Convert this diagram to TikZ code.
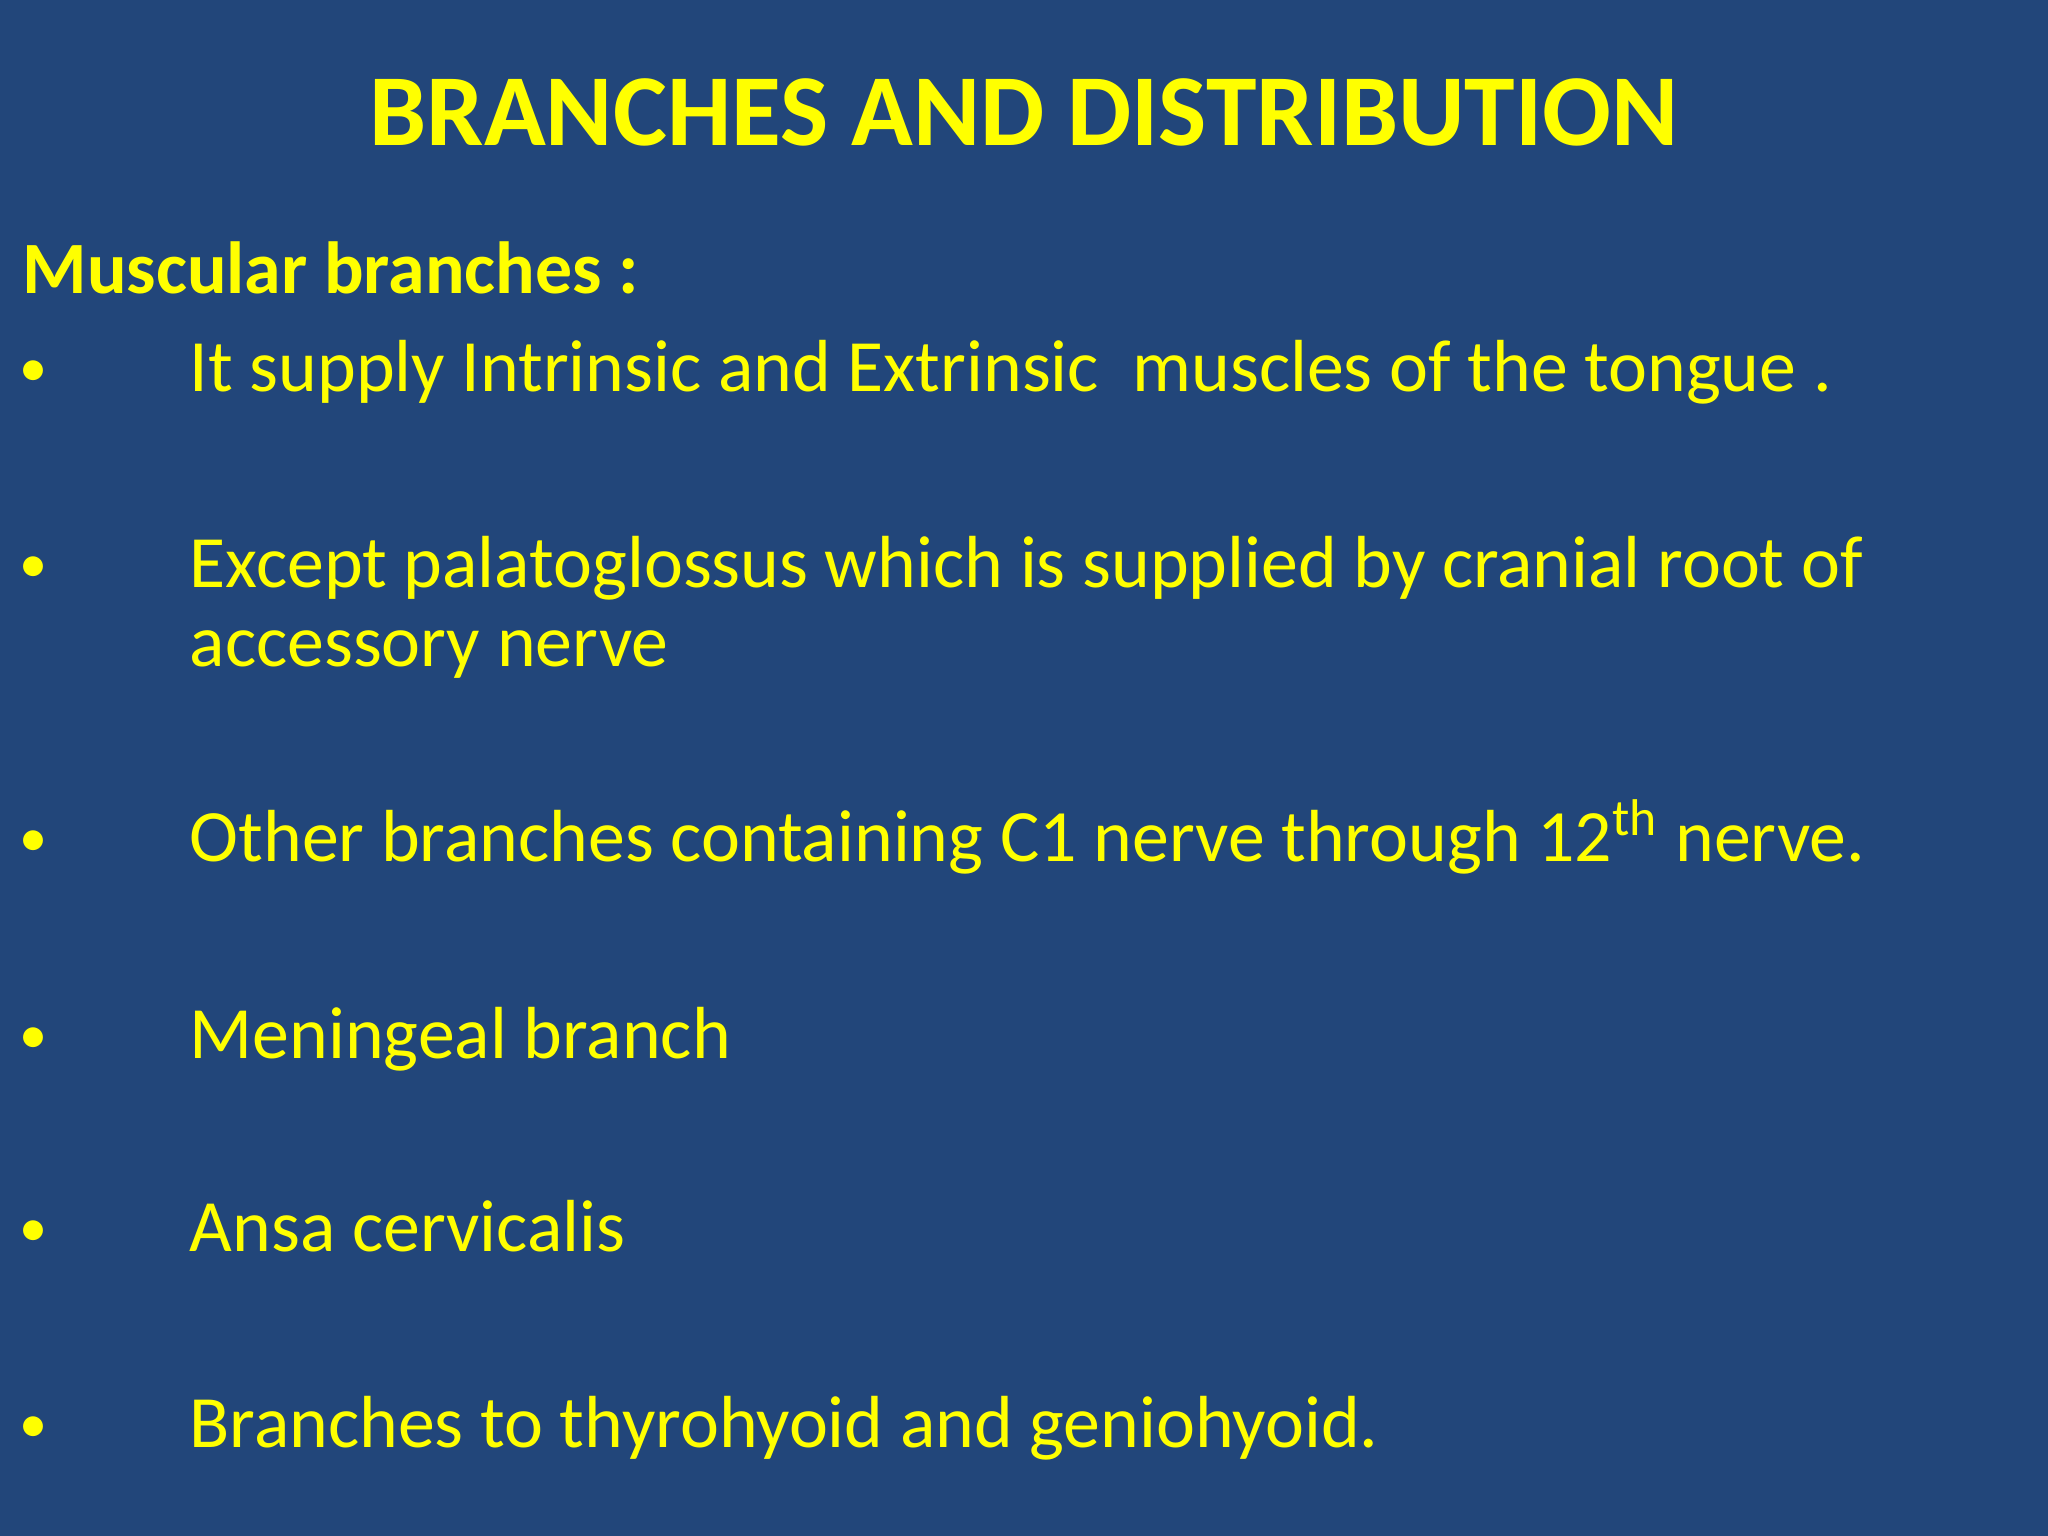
\documentclass[tikz,border=0pt]{standalone}
\usepackage{fontspec}
\setmainfont{Carlito}
\definecolor{slideblue}{RGB}{34,70,122}
\definecolor{slideyellow}{RGB}{255,255,0}
\begin{document}
\begin{tikzpicture}[
	every node/.style={
		text=slideyellow,
		inner sep=0pt},
	title/.style={
		anchor=base,
		font=\fontsize{29}{34}\selectfont\bfseries},
	heading/.style={
		anchor=base west,
		font=\fontsize{21}{26}\selectfont\bfseries},
	item/.style={
		anchor=base west,
		font=\fontsize{21}{26}\selectfont},
	dot/.style={
		anchor=base,
		font=\fontsize{16}{20}\selectfont}
	]
	\fill[slideblue] (0,0) rectangle (20.48,-15.36);
	\useasboundingbox (0,0) rectangle (20.48,-15.36);

	\node[title] (title) at (10.24,-1.46) {BRANCHES AND DISTRIBUTION};
	\node[heading] (muscular) at (0.22,-2.94) {Muscular branches :};

	% bullet list
	\foreach \y/\name in {3.87/a, 5.83/b, 8.57/c, 10.53/d, 12.46/e, 14.42/f}
		\node[dot] (dot\name) at (0.34,-\y) {•};

	\node[item] (supply) at (1.89,-3.92) {It supply Intrinsic and Extrinsic\ \ muscles of the tongue .};
	\node[item] (except) at (1.89,-5.88) {Except palatoglossus which is supplied by cranial root of};
	\node[item] (accessory) at (1.89,-6.66) {accessory nerve};
	\node[item] (other) at (1.89,-8.62) {Other branches containing C1 nerve through 12\textsuperscript{th} nerve.};
	\node[item] (meningeal) at (1.89,-10.58) {Meningeal branch};
	\node[item] (ansa) at (1.89,-12.51) {Ansa cervicalis};
	\node[item] (thyro) at (1.89,-14.47) {Branches to thyrohyoid and geniohyoid.};
\end{tikzpicture}
\end{document}
